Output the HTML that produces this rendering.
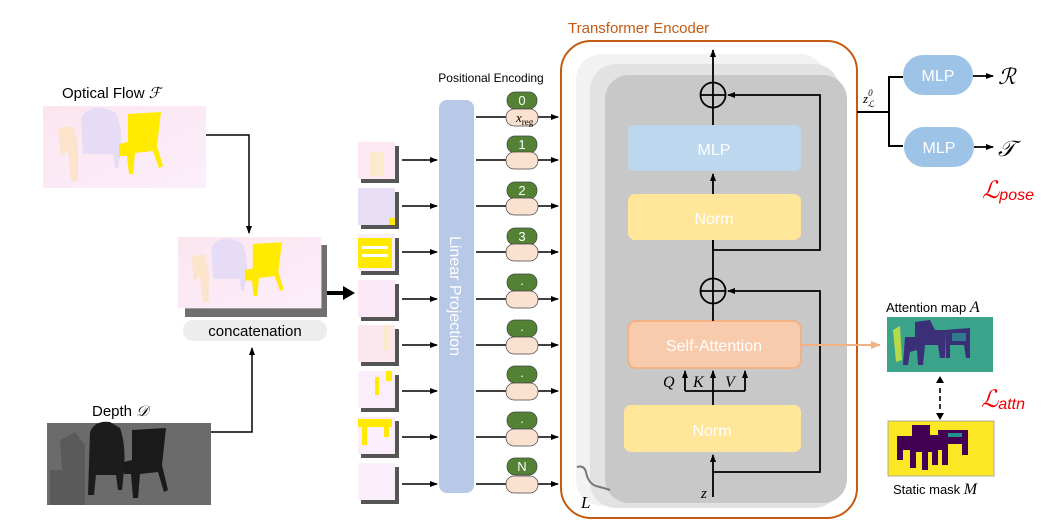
<!DOCTYPE html>
<html><head><meta charset="utf-8"><style>
html,body{margin:0;padding:0;background:#fff;}
svg{display:block;font-family:"Liberation Sans",sans-serif;}
.it{font-family:"Liberation Serif",serif;font-style:italic;}
</style></head><body>
<svg width="1058" height="528" viewBox="0 0 1058 528" xmlns="http://www.w3.org/2000/svg">
<defs>
<marker id="ah" markerWidth="8" markerHeight="8" refX="7" refY="4" orient="auto" markerUnits="userSpaceOnUse"><path d="M0,1 L8,4 L0,7 z" fill="#000"/></marker>
<marker id="aho" markerWidth="10" markerHeight="10" refX="9" refY="5" orient="auto" markerUnits="userSpaceOnUse"><path d="M0,1 L10,5 L0,9 z" fill="#f4b183"/></marker>
<linearGradient id="pk" x1="0" y1="0" x2="1" y2="1"><stop offset="0" stop-color="#fbe6ef"/><stop offset="1" stop-color="#fbeefb"/></linearGradient>
<g id="chairs">
<rect x="0" y="0" width="163" height="82" fill="url(#pk)"/>
<path d="M15,22 L30,20 L35,40 L35,75 L28,75 L25,45 L18,50 Z" fill="#fbe3cc"/>
<path d="M38,12 Q45,0 60,2 L72,6 Q80,20 78,45 L75,62 L72,62 L70,48 L40,48 Z" fill="#e6dcf6"/>
<path d="M85,8 L118,6 L114,40 L120,60 L116,62 L110,45 L92,47 L90,68 L86,68 L84,50 L76,50 L76,38 L85,36 Z" fill="#ffea00"/>
</g>
</defs>

<text x="62" y="98" font-size="15" fill="#000">Optical Flow <tspan class="it">ℱ</tspan></text>
<use href="#chairs" x="43" y="106"/>
<path d="M206,135 H249 V233" fill="none" stroke="#000" stroke-width="1.5" marker-end="url(#ah)"/>

<rect x="185" y="245" width="142" height="72" fill="#6f6f6f"/>
<g transform="translate(178,237) scale(0.88,0.87)"><use href="#chairs"/></g>
<rect x="183" y="320" width="144" height="21" rx="10" fill="#ededed"/>
<text x="255" y="336" font-size="15" text-anchor="middle" fill="#000">concatenation</text>
<path d="M327,293 H345" stroke="#000" stroke-width="4"/>
<path d="M343,286 L355,293 L343,300 Z" fill="#000"/>

<text x="92" y="416" font-size="15" fill="#000">Depth <tspan class="it">𝒟</tspan></text>
<rect x="47" y="423" width="164" height="82" fill="#6b6b6b"/>
<path d="M60,440 L75,432 L85,445 L85,505 L50,505 L50,470 L62,470 Z" fill="#5a5a5a"/>
<path d="M90,432 Q95,420 110,422 L120,428 Q126,445 124,470 L122,490 L118,490 L116,475 L96,475 L94,495 L88,495 Z" fill="#1c1c1c"/>
<path d="M132,430 L166,428 L162,465 L168,490 L164,492 L158,472 L140,474 L138,498 L133,498 L131,474 L124,474 L124,462 L132,460 Z" fill="#1a1a1a"/>
<path d="M211,432 H252 V348" fill="none" stroke="#000" stroke-width="1.5" marker-end="url(#ah)"/>

<g>
<rect x="361" y="146" width="38" height="37" fill="#555"/><rect x="358" y="142" width="37" height="37" fill="#fbe8f2"/><rect x="370" y="152" width="14" height="24" fill="#fbeacc"/>
<rect x="361" y="192" width="38" height="37" fill="#555"/><rect x="358" y="188" width="37" height="37" fill="#e8def6"/><rect x="389" y="218" width="6" height="7" fill="#ffea00"/>
<rect x="361" y="238" width="38" height="37" fill="#555"/><rect x="358" y="234" width="37" height="37" fill="#fbeefb"/><rect x="358" y="238" width="34" height="30" fill="#ffea00"/><rect x="362" y="246" width="26" height="3" fill="#fff"/><rect x="362" y="254" width="26" height="3" fill="#fff"/>
<rect x="361" y="284" width="38" height="37" fill="#555"/><rect x="358" y="280" width="37" height="37" fill="#fbe9f8"/>
<rect x="361" y="329" width="38" height="37" fill="#555"/><rect x="358" y="325" width="37" height="37" fill="#fbe8ef"/><rect x="384" y="325" width="5" height="25" fill="#fbeacc"/>
<rect x="361" y="375" width="38" height="37" fill="#555"/><rect x="358" y="371" width="37" height="37" fill="#fbeefb"/><rect x="375" y="377" width="4" height="18" fill="#ffea00"/><rect x="386" y="371" width="6" height="10" fill="#ffea00"/>
<rect x="361" y="421" width="38" height="37" fill="#555"/><rect x="358" y="417" width="37" height="37" fill="#fbeefb"/><rect x="358" y="419" width="34" height="8" fill="#ffea00"/><rect x="362" y="419" width="5" height="26" fill="#ffea00"/><rect x="384" y="419" width="5" height="18" fill="#ffea00"/>
<rect x="361" y="467" width="38" height="37" fill="#555"/><rect x="358" y="463" width="37" height="37" fill="#fbeefb"/>
</g>
<g stroke="#000" stroke-width="1.5" marker-end="url(#ah)">
<line x1="402" y1="160" x2="437" y2="160"/><line x1="402" y1="206" x2="437" y2="206"/>
<line x1="402" y1="252" x2="437" y2="252"/><line x1="402" y1="299" x2="437" y2="299"/>
<line x1="402" y1="345" x2="437" y2="345"/><line x1="402" y1="391" x2="437" y2="391"/>
<line x1="402" y1="437" x2="437" y2="437"/><line x1="402" y1="484" x2="437" y2="484"/>
</g>

<rect x="439" y="100" width="35" height="393" rx="8" fill="#b8c9e7"/>
<text transform="translate(450,296) rotate(90)" font-size="16" text-anchor="middle" fill="#fff">Linear Projection</text>

<text x="491" y="82" font-size="12" text-anchor="middle" fill="#000">Positional Encoding</text>
<g stroke="#000" stroke-width="1.5">
<line x1="476" y1="117" x2="507" y2="117"/><line x1="476" y1="160" x2="507" y2="160"/><line x1="476" y1="206" x2="507" y2="206"/><line x1="476" y1="252" x2="507" y2="252"/><line x1="476" y1="299" x2="507" y2="299"/><line x1="476" y1="345" x2="507" y2="345"/><line x1="476" y1="391" x2="507" y2="391"/><line x1="476" y1="437" x2="507" y2="437"/><line x1="476" y1="484" x2="507" y2="484"/>
</g>
<g stroke="#000" stroke-width="1.5" marker-end="url(#ah)">
<line x1="538" y1="117" x2="558" y2="117"/><line x1="538" y1="160" x2="558" y2="160"/><line x1="538" y1="206" x2="558" y2="206"/><line x1="538" y1="252" x2="558" y2="252"/><line x1="538" y1="299" x2="558" y2="299"/><line x1="538" y1="345" x2="558" y2="345"/><line x1="538" y1="391" x2="558" y2="391"/><line x1="538" y1="437" x2="558" y2="437"/><line x1="538" y1="484" x2="558" y2="484"/>
</g>
<g stroke="#444" stroke-width="0.7">
<rect x="507" y="92" width="30" height="17" rx="8" fill="#548235"/>
<rect x="507" y="136" width="30" height="17" rx="8" fill="#548235"/>
<rect x="507" y="182" width="30" height="17" rx="8" fill="#548235"/>
<rect x="507" y="228" width="30" height="17" rx="8" fill="#548235"/>
<rect x="507" y="274" width="30" height="17" rx="8" fill="#548235"/>
<rect x="507" y="320" width="30" height="17" rx="8" fill="#548235"/>
<rect x="507" y="366" width="30" height="17" rx="8" fill="#548235"/>
<rect x="507" y="412" width="30" height="17" rx="8" fill="#548235"/>
<rect x="507" y="458" width="30" height="17" rx="8" fill="#548235"/>
<rect x="506" y="109" width="32" height="17" rx="8" fill="#fbe2d0"/>
<rect x="506" y="152" width="32" height="17" rx="8" fill="#fbe2d0"/>
<rect x="506" y="198" width="32" height="17" rx="8" fill="#fbe2d0"/>
<rect x="506" y="244" width="32" height="17" rx="8" fill="#fbe2d0"/>
<rect x="506" y="291" width="32" height="17" rx="8" fill="#fbe2d0"/>
<rect x="506" y="337" width="32" height="17" rx="8" fill="#fbe2d0"/>
<rect x="506" y="383" width="32" height="17" rx="8" fill="#fbe2d0"/>
<rect x="506" y="429" width="32" height="17" rx="8" fill="#fbe2d0"/>
<rect x="506" y="476" width="32" height="17" rx="8" fill="#fbe2d0"/>
</g>
<g font-size="13" fill="#fff" text-anchor="middle">
<text x="522" y="105">0</text><text x="522" y="149">1</text><text x="522" y="195">2</text><text x="522" y="241">3</text><text x="522" y="285">.</text><text x="522" y="331">.</text><text x="522" y="377">.</text><text x="522" y="423">.</text><text x="522" y="471">N</text>
</g>
<text x="516" y="122" font-size="13" class="it" fill="#000">x<tspan font-size="9" dy="3" font-style="normal">reg</tspan></text>

<text x="568" y="33" font-size="15" fill="#c55a11">Transformer Encoder</text>
<rect x="561" y="41" width="296" height="477" rx="30" fill="#fff" stroke="#c55a11" stroke-width="2"/>
<rect x="576" y="54" width="250" height="452" rx="26" fill="#f2f2f2"/>
<rect x="590" y="64" width="250" height="444" rx="26" fill="#e2e2e2"/>
<rect x="605" y="75" width="242" height="428" rx="24" fill="#c8c8c8"/>

<rect x="628" y="125" width="173" height="46" rx="7" fill="#bdd7ee"/>
<text x="714" y="155" font-size="16" fill="#fff" text-anchor="middle">MLP</text>
<rect x="628" y="194" width="173" height="46" rx="7" fill="#ffe699"/>
<text x="714" y="224" font-size="16" fill="#fff" text-anchor="middle">Norm</text>
<rect x="628" y="321" width="173" height="47" rx="8" fill="#f8cbad" stroke="#f4b183" stroke-width="2"/>
<text x="714" y="351" font-size="16" fill="#fff" text-anchor="middle">Self-Attention</text>
<rect x="624" y="405" width="177" height="47" rx="7" fill="#ffe699"/>
<text x="712" y="436" font-size="16" fill="#fff" text-anchor="middle">Norm</text>

<g stroke="#000" stroke-width="1.8" fill="none">
<line x1="713" y1="125" x2="713" y2="108"/>
<line x1="713" y1="82" x2="713" y2="50" marker-end="url(#ah)"/>
<circle cx="713" cy="95" r="12.5"/><line x1="700.5" y1="95" x2="725.5" y2="95"/><line x1="713" y1="82.5" x2="713" y2="107.5"/>
<line x1="713" y1="194" x2="713" y2="174" marker-end="url(#ah)"/>
<path d="M713,240 V250 H820 V95 H728" marker-end="url(#ah)"/>
<line x1="713" y1="321" x2="713" y2="304"/>
<line x1="713" y1="278" x2="713" y2="240"/>
<circle cx="713" cy="291" r="12.5"/><line x1="700.5" y1="291" x2="725.5" y2="291"/><line x1="713" y1="278.5" x2="713" y2="303.5"/>
<path d="M713,497 V472 H820 V291 H728" marker-end="url(#ah)"/>
<line x1="713" y1="472" x2="713" y2="455" marker-end="url(#ah)"/>
<line x1="713" y1="405" x2="713" y2="371" marker-end="url(#ah)"/>
<path d="M685,391 H745"/>
<line x1="685" y1="391" x2="685" y2="371" marker-end="url(#ah)"/>
<line x1="745" y1="391" x2="745" y2="371" marker-end="url(#ah)"/>
</g>
<g class="it" font-size="16" fill="#000">
<text x="663" y="387">Q</text><text x="693" y="387">K</text><text x="725" y="387">V</text>
<text x="701" y="498" font-size="15">z</text>
<text x="581" y="508" font-size="17">L</text>
</g>
<path d="M577,467 Q584,465 586,472 Q588,483 596,486 Q604,488 610,490" fill="none" stroke="#777" stroke-width="2"/>

<line x1="801" y1="345" x2="880" y2="345" stroke="#f4b183" stroke-width="2" marker-end="url(#aho)"/>

<text x="863" y="103" font-size="13" class="it" fill="#000">z<tspan font-size="9" dy="-7">0</tspan><tspan font-size="9" dx="-5" dy="11">ℒ</tspan></text>
<g stroke="#000" stroke-width="2" fill="none">
<path d="M857,112 H889"/><path d="M903,77 H889 V146 H903"/>
</g>
<rect x="903" y="55" width="70" height="40" rx="20" fill="#9dc3e6"/>
<text x="938" y="81" font-size="16" fill="#fff" text-anchor="middle">MLP</text>
<rect x="904" y="127" width="70" height="40" rx="20" fill="#9dc3e6"/>
<text x="939" y="153" font-size="16" fill="#fff" text-anchor="middle">MLP</text>
<g stroke="#000" stroke-width="1.8" marker-end="url(#ah)">
<line x1="973" y1="76" x2="993" y2="76"/><line x1="974" y1="147" x2="993" y2="147"/>
</g>
<text x="998" y="84" font-size="22" class="it" fill="#000">ℛ</text>
<text x="998" y="156" font-size="22" class="it" fill="#000">𝒯</text>
<text x="982" y="198" font-size="24" class="it" fill="#e00">ℒ<tspan font-size="16" font-family="Liberation Sans" dy="2">pose</tspan></text>

<text x="886" y="312" font-size="13" fill="#000">Attention map <tspan class="it" font-size="16">A</tspan></text>
<rect x="887" y="317" width="106" height="55" fill="#3aa38a"/>
<path d="M893,330 L900,326 L902,360 L896,362 Z" fill="#b6d94a"/>
<path d="M905,337 L915,337 L915,322 L930,320 L935,330 L945,330 L945,358 L940,358 L938,345 L925,345 L923,365 L918,365 L917,350 L910,352 L908,365 L903,365 Z" fill="#3b2f78"/>
<path d="M945,330 L970,328 L970,358 L966,358 L964,345 L950,345 L950,358 L946,358 Z" fill="#3b2f78"/>
<path d="M952,333 L966,333 L966,341 L952,341 Z" fill="#2f7a8e"/>

<line x1="940" y1="388" x2="940" y2="409" stroke="#000" stroke-width="1.6" stroke-dasharray="5,3"/>
<path d="M936,383 L940,376 L944,383 Z" fill="#000"/>
<path d="M936,413 L940,420 L944,413 Z" fill="#000"/>
<text x="981" y="407" font-size="24" class="it" fill="#e00">ℒ<tspan font-size="16" font-family="Liberation Sans" dy="2">attn</tspan></text>

<rect x="888" y="421" width="106" height="55" fill="#fde725" stroke="#999" stroke-width="0.8"/>
<path d="M897,436 L912,436 L912,425 L930,425 L930,435 L938,435 L938,465 L932,465 L932,452 L928,452 L928,470 L922,470 L922,452 L916,452 L916,468 L910,468 L910,450 L903,450 L903,460 L897,460 Z" fill="#440154"/>
<path d="M938,430 L968,430 L968,455 L962,455 L962,444 L948,444 L948,465 L942,465 L942,450 L938,450 Z" fill="#440154"/>
<rect x="948" y="433" width="14" height="4" fill="#21918c"/>
<text x="893" y="494" font-size="13" fill="#000">Static mask <tspan class="it" font-size="16">M</tspan></text>
</svg>
</body></html>
